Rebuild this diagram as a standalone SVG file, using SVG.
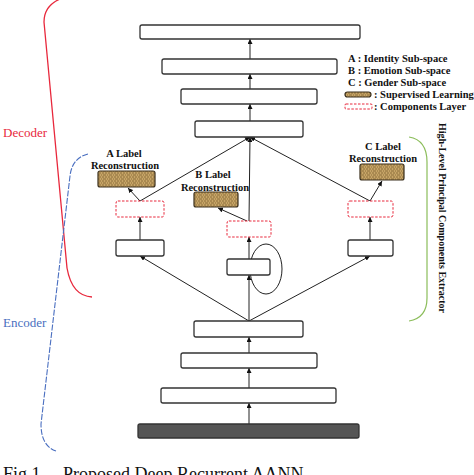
<svg xmlns="http://www.w3.org/2000/svg" width="474" height="475" viewBox="0 0 474 475">
<defs>
<pattern id="hatch" width="6" height="4" patternUnits="userSpaceOnUse">
<rect width="6" height="4" fill="#c7a567"/>
<path d="M0 1 h2 M3 1 h2 M1 3 h3 M5 3 h1" stroke="#7d5f2e" stroke-width="0.8"/>
</pattern>
<marker id="ah" viewBox="0 0 6 6" refX="6" refY="3" markerWidth="5" markerHeight="5" markerUnits="userSpaceOnUse" orient="auto">
<path d="M0 0 L6 3 L0 6 Z" fill="#111"/>
</marker>
<style>
.box{fill:#fff;stroke:#333;stroke-width:1.3}
.dark{fill:#555;stroke:#333;stroke-width:1.3}
.comp{fill:#fff;stroke:#e8283c;stroke-width:1;stroke-dasharray:2.5,1.5}
.sup{fill:url(#hatch);stroke:#3b2f1c;stroke-width:1.2}
.ln{stroke:#222;stroke-width:1;fill:none}
.lb{font-family:"Liberation Serif","Times New Roman",serif;font-weight:bold;font-size:10.5px;fill:#111}
.side{font-family:"Liberation Serif","Times New Roman",serif;font-size:13px}
</style>
</defs>
<rect width="474" height="475" fill="#fff"/>

<g id="braces" fill="none">
<path d="M60 -1 Q44 6 44 22 L67 268 Q72 296 92 297" stroke="#e8283c" stroke-width="1.3"/>
<path d="M88 154 Q72 158 70 176 L41 424 Q41 446 56 451" stroke="#4a6fc0" stroke-width="1.1" stroke-dasharray="6,1.5"/>
<path d="M409 137 Q427 140 427 162 L427 298 Q427 318 409 321" stroke="#8bbd5a" stroke-width="1.2"/>
</g>
<text class="side" x="3" y="137" fill="#e8283c">Decoder</text>
<text class="side" x="3" y="327" fill="#4a6fc0">Encoder</text>
<text class="lb" transform="translate(439,123) rotate(90)" textLength="190" lengthAdjust="spacingAndGlyphs">High-Level Principal Components Extractor</text>

<g id="connectors">
<line class="ln" x1="250" y1="59" x2="250" y2="39" marker-end="url(#ah)"/>
<line class="ln" x1="250" y1="89" x2="250" y2="74" marker-end="url(#ah)"/>
<line class="ln" x1="250" y1="121" x2="250" y2="104" marker-end="url(#ah)"/>
<line class="ln" x1="140" y1="201" x2="250" y2="137" marker-end="url(#ah)"/>
<line class="ln" x1="249" y1="221" x2="250" y2="137" marker-end="url(#ah)"/>
<line class="ln" x1="370" y1="201" x2="250" y2="137" marker-end="url(#ah)"/>
<line class="ln" x1="140" y1="201" x2="128" y2="188" marker-end="url(#ah)"/>
<line class="ln" x1="247" y1="221" x2="218" y2="208" marker-end="url(#ah)"/>
<line class="ln" x1="370" y1="201" x2="382" y2="181" marker-end="url(#ah)"/>
<line class="ln" x1="140" y1="240" x2="140" y2="217" marker-end="url(#ah)"/>
<line class="ln" x1="249" y1="259" x2="249" y2="237" marker-end="url(#ah)"/>
<line class="ln" x1="370" y1="240" x2="370" y2="217" marker-end="url(#ah)"/>
<line class="ln" x1="249" y1="321" x2="140" y2="256" marker-end="url(#ah)"/>
<line class="ln" x1="249" y1="321" x2="249" y2="275" marker-end="url(#ah)"/>
<line class="ln" x1="249" y1="321" x2="370" y2="256" marker-end="url(#ah)"/>
<line class="ln" x1="249" y1="353" x2="249" y2="337" marker-end="url(#ah)"/>
<line class="ln" x1="249" y1="388" x2="249" y2="368" marker-end="url(#ah)"/>
<line class="ln" x1="249" y1="424" x2="249" y2="403" marker-end="url(#ah)"/>
<ellipse cx="266" cy="269" rx="16" ry="25" fill="none" stroke="#222" stroke-width="1"/>
</g>

<g id="dec1"><rect class="box" x="140" y="25" width="220" height="14" rx="2"/></g>
<g id="dec2"><rect class="box" x="162" y="59" width="175" height="15" rx="2"/></g>
<g id="dec3"><rect class="box" x="181" y="89" width="136" height="15" rx="2"/></g>
<g id="dec4"><rect class="box" x="195" y="121" width="108" height="16" rx="2"/></g>

<g id="a-label">
<text class="lb" x="124" y="157" text-anchor="middle">A Label</text>
<text class="lb" x="125" y="169" text-anchor="middle">Reconstruction</text>
<rect class="sup" x="98" y="171" width="57" height="16" rx="2"/>
</g>
<g id="a-comp"><rect class="comp" x="116" y="201" width="48" height="16" rx="2"/></g>
<g id="a-box"><rect class="box" x="116" y="240" width="48" height="16" rx="2"/></g>

<g id="b-label">
<text class="lb" x="213" y="178" text-anchor="middle">B Label</text>
<text class="lb" x="215" y="191" text-anchor="middle">Reconstruction</text>
<rect class="sup" x="194" y="192" width="44" height="15" rx="2"/>
</g>
<g id="b-comp"><rect class="comp" x="227" y="221" width="44" height="16" rx="2"/></g>
<g id="b-box"><rect class="box" x="227" y="259" width="43" height="16" rx="2"/></g>

<g id="c-label">
<text class="lb" x="383" y="150" text-anchor="middle">C Label</text>
<text class="lb" x="383" y="162" text-anchor="middle">Reconstruction</text>
<rect class="sup" x="360" y="164" width="44" height="16" rx="2"/>
</g>
<g id="c-comp"><rect class="comp" x="348" y="201" width="45" height="16" rx="2"/></g>
<g id="c-box"><rect class="box" x="348" y="240" width="45" height="16" rx="2"/></g>

<g id="enc1"><rect class="box" x="194" y="321" width="109" height="16" rx="2"/></g>
<g id="enc2"><rect class="box" x="181" y="353" width="136" height="15" rx="2"/></g>
<g id="enc3"><rect class="box" x="161" y="388" width="175" height="15" rx="2"/></g>
<g id="input"><rect class="dark" x="138" y="424" width="221" height="14" rx="2"/></g>

<g id="legend">
<text class="lb" x="348" y="62">A : Identity Sub-space</text>
<text class="lb" x="348" y="74">B : Emotion Sub-space</text>
<text class="lb" x="348" y="86">C : Gender Sub-space</text>
<rect class="sup" x="345" y="92" width="26" height="5" rx="2.5"/>
<text class="lb" x="374" y="98">: Supervised Learning</text>
<rect class="comp" x="345" y="104" width="27" height="5" rx="1"/>
<text class="lb" x="374" y="110">: Components Layer</text>
</g>

<text x="3" y="480" font-family="Liberation Serif,'Times New Roman',serif" font-size="18" fill="#111">Fig 1. – Proposed Deep Recurrent AANN</text>
</svg>
